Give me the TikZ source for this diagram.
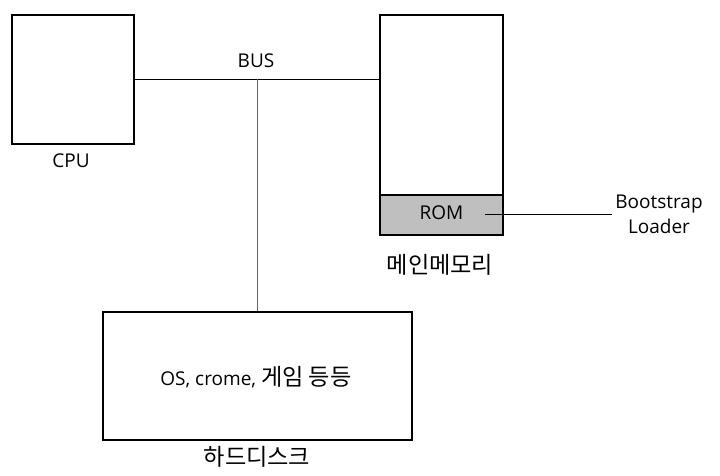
\documentclass[tikz,border=0pt]{standalone}
\usepackage{fontspec}
\setmainfont{Open Sans}
\newfontfamily\kr[Scale=1.22]{Noto Sans CJK KR}

\begin{document}
\begin{tikzpicture}[x=1pt, y=-1pt,
  box/.style={draw, line width=1.6pt, rectangle, inner sep=0pt},
  lbl/.style={font=\fontsize{19}{25}\selectfont, inner sep=3pt, align=center}]
\useasboundingbox (0,0) rectangle (720,476);
\node[box, minimum width=122pt, minimum height=129pt] (cpu) at (73, 79.5) {};
\node[box, minimum width=123pt, minimum height=220pt] (mem) at (441.5, 125) {};
\node[box, fill=black!25, minimum width=123pt, minimum height=40pt] (rom) at (441.5, 215) {};
\node[box, minimum width=309pt, minimum height=128pt] (hdd) at (257.5, 376) {};
\node[lbl] (rl) at (441.5, 213) {ROM};
\node[lbl] (cl) at (71, 161) {CPU};
\node[lbl] (bl) at (256, 61) {BUS};
\node[lbl] (boot) at (659, 214) {Bootstrap\\Loader};
\node[lbl] (ml) at (440, 265) {\kr 메인메모리};
\node[lbl] (hl) at (256, 377) {OS, crome, {\kr 게임 등등}};
\node[lbl] (dl) at (257, 457) {\kr 하드디스크};
\coordinate (j) at (257.5, 79);
\coordinate (tip) at (485, 214);
\draw (cpu.east) -- (cpu.east -| mem.west);
\draw[black!60, line width=1.2pt] (j) -- (hdd.north);
\draw (tip) -- (boot.west);
\end{tikzpicture}
\end{document}
